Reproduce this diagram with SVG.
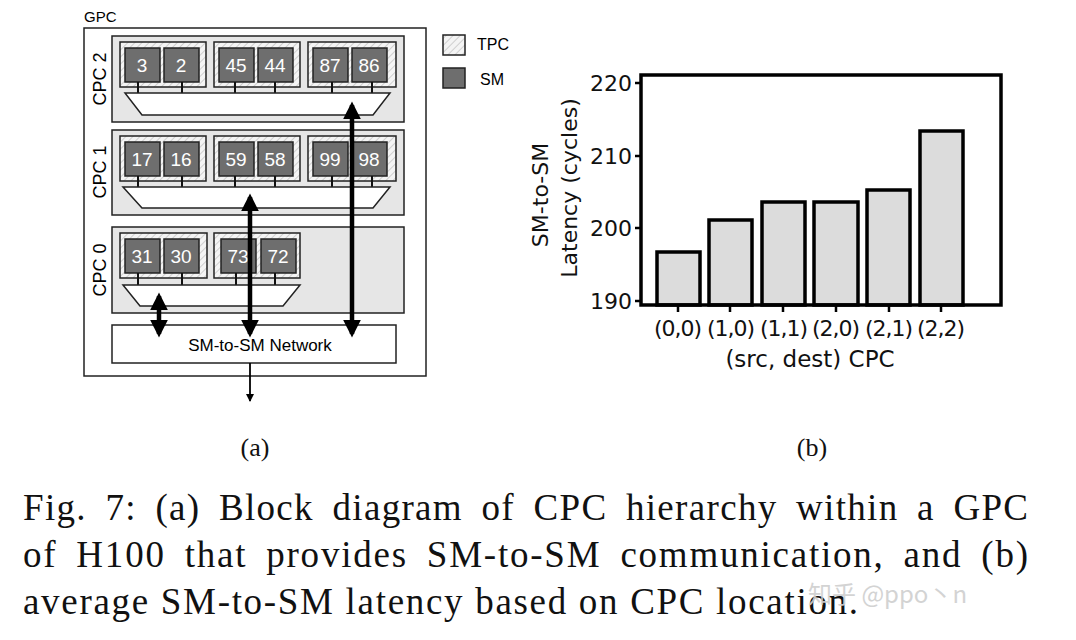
<svg xmlns="http://www.w3.org/2000/svg" width="1076" height="640" viewBox="0 0 1076 640">
<defs>
<pattern id="hatch" width="5" height="5" patternUnits="userSpaceOnUse" patternTransform="rotate(45)">
<rect width="5" height="5" fill="#f4f4f4"/><line x1="0" y1="0" x2="0" y2="5" stroke="#cfcfcf" stroke-width="2"/>
</pattern>
<marker id="ah" markerWidth="4" markerHeight="4" refX="3.2" refY="2" orient="auto-start-reverse" markerUnits="strokeWidth"><path d="M0,0 L4,2 L0,4 Z" fill="#000"/></marker>
<marker id="ahs" markerWidth="8" markerHeight="8" refX="7" refY="4" orient="auto" markerUnits="userSpaceOnUse"><path d="M0,0 L8,4 L0,8 Z" fill="#000"/></marker>
</defs>
<style>
.s{font-family:"Liberation Sans",Arial,sans-serif}
.cpc{fill:#e6e6e6;stroke:#222;stroke-width:1.5}
.tpc{fill:url(#hatch);stroke:#222;stroke-width:1.5}
.sm{fill:#6e6e6e;stroke:#222;stroke-width:1.5}
.smt{font-family:"Liberation Sans",Arial,sans-serif;font-size:19px;fill:#fff;text-anchor:middle}
.stub{stroke:#111;stroke-width:2}
.trap{fill:#fff;stroke:#222;stroke-width:1.5}
.d{font-family:"DejaVu Sans",sans-serif;font-size:22px;fill:#111}
.bar{fill:#dcdcdc;stroke:#000;stroke-width:3.5}
.t{font-family:"Liberation Serif","Times New Roman",serif;fill:#111}
</style>
<rect width="1076" height="640" fill="#fff"/>
<g id="gpc">
<text class="s" x="84" y="22" font-size="15">GPC</text>
<rect x="84" y="28" width="342" height="348" fill="#fff" stroke="#222" stroke-width="1.5"/>
</g>
<g id="cpc2">
<rect class="cpc" x="112" y="36" width="292" height="86"/>
<text class="s" font-size="18" transform="translate(106,79) rotate(-90)" text-anchor="middle">CPC 2</text>
<rect class="tpc" x="120" y="42" width="86" height="45"/><rect class="tpc" x="214" y="42" width="86" height="45"/><rect class="tpc" x="308" y="42" width="88" height="45"/>
<rect class="sm" x="125" y="48" width="35" height="34"/><rect class="sm" x="164" y="48" width="35" height="34"/><rect class="sm" x="219" y="48" width="35" height="34"/><rect class="sm" x="258" y="48" width="35" height="34"/><rect class="sm" x="313" y="48" width="35" height="34"/><rect class="sm" x="352" y="48" width="35" height="34"/>
<text class="smt" x="142" y="72">3</text><text class="smt" x="181" y="72">2</text><text class="smt" x="236" y="72">45</text><text class="smt" x="275" y="72">44</text><text class="smt" x="330" y="72">87</text><text class="smt" x="369" y="72">86</text>
<path class="stub" d="M138,82V93M182,82V93M235,82V93M275,82V93M332,82V93M372,82V93"/>
<path class="trap" d="M125,93H390L373,115H142Z"/>
</g>
<g id="cpc1">
<rect class="cpc" x="112" y="130" width="292" height="85"/>
<text class="s" font-size="18" transform="translate(106,172) rotate(-90)" text-anchor="middle">CPC 1</text>
<rect class="tpc" x="120" y="136" width="86" height="45"/><rect class="tpc" x="214" y="136" width="86" height="45"/><rect class="tpc" x="308" y="136" width="88" height="45"/>
<rect class="sm" x="125" y="142" width="35" height="34"/><rect class="sm" x="164" y="142" width="35" height="34"/><rect class="sm" x="219" y="142" width="35" height="34"/><rect class="sm" x="258" y="142" width="35" height="34"/><rect class="sm" x="313" y="142" width="35" height="34"/><rect class="sm" x="352" y="142" width="35" height="34"/>
<text class="smt" x="142" y="166">17</text><text class="smt" x="181" y="166">16</text><text class="smt" x="236" y="166">59</text><text class="smt" x="275" y="166">58</text><text class="smt" x="330" y="166">99</text><text class="smt" x="369" y="166">98</text>
<path class="stub" d="M138,176V187M182,176V187M235,176V187M275,176V187M332,176V187M372,176V187"/>
<path class="trap" d="M123,187H390L373,208H142Z"/>
</g>
<g id="cpc0">
<rect class="cpc" x="112" y="227" width="292" height="86"/>
<text class="s" font-size="18" transform="translate(106,270) rotate(-90)" text-anchor="middle">CPC 0</text>
<rect class="tpc" x="120" y="233" width="87" height="45"/><rect class="tpc" x="214" y="233" width="86" height="45"/>
<rect class="sm" x="125" y="239" width="35" height="34"/><rect class="sm" x="164" y="239" width="35" height="34"/><rect class="sm" x="221" y="239" width="35" height="34"/><rect class="sm" x="261" y="239" width="35" height="34"/>
<text class="smt" x="142" y="263">31</text><text class="smt" x="181" y="263">30</text><text class="smt" x="238" y="263">73</text><text class="smt" x="278" y="263">72</text>
<path class="stub" d="M138,273V285M182,273V285M236,273V285M275,273V285"/>
<path class="trap" d="M123,285H300L283,306H140Z"/>
</g>
<g id="network">
<rect x="112" y="325" width="284" height="38" fill="#fff" stroke="#222" stroke-width="1.5"/>
<text class="s" x="260" y="351" font-size="17" text-anchor="middle">SM-to-SM Network</text>
</g>
<g id="legend">
<rect class="tpc" x="443" y="35" width="22" height="20"/><text class="s" x="477" y="50" font-size="16">TPC</text>
<rect class="sm" x="443" y="68" width="22" height="20"/><text class="s" x="480" y="85" font-size="16">SM</text>
</g>
<g id="connectors" stroke="#000" fill="none">
<line x1="159" y1="296" x2="159" y2="334" stroke-width="4.5" marker-start="url(#ah)" marker-end="url(#ah)"/>
<line x1="250" y1="197" x2="250" y2="334" stroke-width="4.5" marker-start="url(#ah)" marker-end="url(#ah)"/>
<line x1="352" y1="105" x2="352" y2="334" stroke-width="4.5" marker-start="url(#ah)" marker-end="url(#ah)"/>
<line x1="250" y1="363" x2="250" y2="401" stroke-width="1.8" marker-end="url(#ahs)"/>
</g>
<g id="chart">
<rect class="bar" x="657" y="252" width="43" height="53"/>
<rect class="bar" x="709" y="220" width="43" height="85"/>
<rect class="bar" x="762" y="202" width="43" height="103"/>
<rect class="bar" x="814" y="202" width="44" height="103"/>
<rect class="bar" x="867" y="190" width="43" height="115"/>
<rect class="bar" x="920" y="131" width="43" height="174"/>
<rect x="641" y="75" width="360" height="230" fill="none" stroke="#000" stroke-width="3.5"/>
<path d="M635,83H641M635,156H641M635,228H641M635,301H641M678,305V312M730,305V312M783,305V312M836,305V312M889,305V312M941,305V312" stroke="#000" stroke-width="2.5"/>
<g class="d" text-anchor="end"><text x="632" y="91">220</text><text x="632" y="164">210</text><text x="632" y="236">200</text><text x="632" y="309">190</text></g>
<g class="d" text-anchor="middle"><text x="678" y="336" textLength="48">(0,0)</text><text x="731" y="336" textLength="48">(1,0)</text><text x="784" y="336" textLength="48">(1,1)</text><text x="836" y="336" textLength="48">(2,0)</text><text x="889" y="336" textLength="48">(2,1)</text><text x="941" y="336" textLength="48">(2,2)</text>
<text x="810" y="367" font-size="23">(src, dest) CPC</text></g>
<g class="d" text-anchor="middle" font-size="23"><text transform="translate(548,195) rotate(-90)">SM-to-SM</text><text transform="translate(577,188) rotate(-90)">Latency (cycles)</text></g>
</g>
<g id="captions">
<text class="t" x="255" y="456" font-size="26" text-anchor="middle">(a)</text>
<text class="t" x="812" y="456" font-size="26" text-anchor="middle">(b)</text>
<text class="t" x="23" y="520" font-size="37" textLength="1005" lengthAdjust="spacing" word-spacing="8">Fig. 7: (a) Block diagram of CPC hierarchy within a GPC</text>
<text class="t" x="23" y="567" font-size="37" textLength="1005" lengthAdjust="spacing" word-spacing="8">of H100 that provides SM-to-SM communication, and (b)</text>
<text class="t" x="23" y="614" font-size="37" textLength="835" lengthAdjust="spacing">average SM-to-SM latency based on CPC location.</text>
<text x="808" y="603" font-size="24" fill="#cfcfcf" font-family="'Noto Sans CJK SC',sans-serif" opacity="0.9">知乎 @ppo丶n</text>
</g>
</svg>
